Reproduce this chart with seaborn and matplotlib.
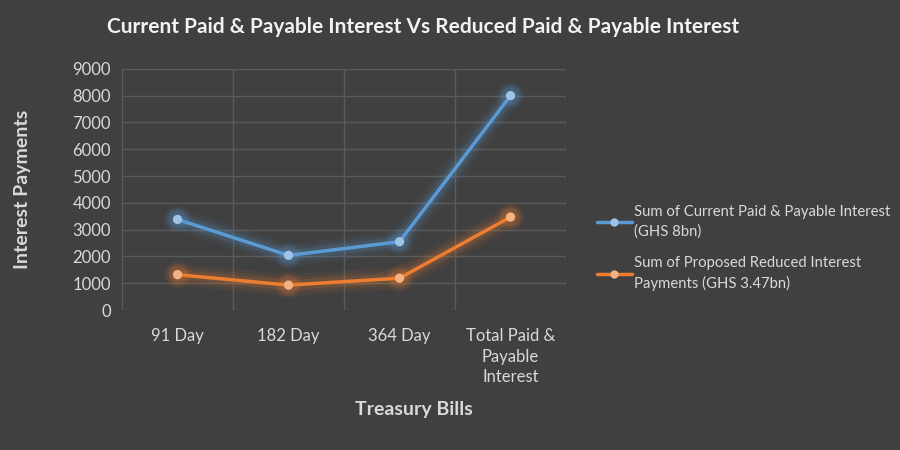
import seaborn as sns
import matplotlib.pyplot as plt
import pandas as pd
import numpy as np

# values
categories = ['91 Day', '182 Day', '364 Day', 'Total Paid &\nPayable\nInterest']
current_interest = [3380, 2040, 2550, 8000]
reduced_interest = [1320, 930, 1190, 3470]
series_names = ['Sum of Current Paid & Payable Interest\n(GHS 8bn)',
                'Sum of Proposed Reduced Interest\nPayments (GHS 3.47bn)']
colors = ['#5b9bd5', '#ed7d31']
marker_colors = ['#9dc3e6', '#f4b183']

bg = '#404040'
txt = '#d9d9d9'

sns.set_style('dark')
plt.rcParams['font.family'] = ['Lato', 'DejaVu Sans']

df = pd.DataFrame({
    'x': list(range(len(categories))) * 2,
    'value': current_interest + reduced_interest,
    'series': [series_names[0]] * 4 + [series_names[1]] * 4,
})

fig = plt.figure(figsize=(9, 4.5), dpi=100, facecolor=bg)
ax = fig.add_axes([0.1356, 0.311, 0.4933, 0.536])
ax.set_facecolor(bg)

# glow around lines
for lw, a in [(16, 0.06), (11, 0.09), (7, 0.15)]:
    sns.lineplot(data=df, x='x', y='value', hue='series', palette=colors,
                 linewidth=lw, alpha=a, legend=False, ax=ax,
                 solid_capstyle='round')
    sns.scatterplot(data=df, x='x', y='value', hue='series', palette=colors,
                    s=lw * 25, alpha=a, legend=False, ax=ax, linewidth=0)

sns.lineplot(data=df, x='x', y='value', hue='series', palette=colors,
             linewidth=2.5, legend=False, ax=ax)
sns.scatterplot(data=df, x='x', y='value', hue='series', palette=marker_colors,
                s=45, legend=False, ax=ax, linewidth=0, zorder=5)

ax.set_xlim(-0.5, 3.5)
ax.set_ylim(0, 9000)
ax.set_yticks(range(0, 9001, 1000))
ax.set_xticks(range(len(categories)))
ax.set_xticklabels(categories, ha='center', va='top', linespacing=1.35)
ax.set_xticks(np.arange(-0.5, 3.6, 1), minor=True)
ax.grid(True, which='major', axis='y', color='#5a5a5a', linewidth=1)
ax.grid(True, which='minor', axis='x', color='#5a5a5a', linewidth=1)
ax.grid(False, which='major', axis='x')
ax.tick_params(axis='both', which='both', length=0, colors=txt, labelsize=12)
ax.tick_params(axis='x', pad=13)
ax.tick_params(axis='y', pad=8)
for s in ax.spines.values():
    s.set_visible(False)

ax.set_xlabel('')
ax.set_ylabel('')
fig.text(0.46, 0.09, 'Treasury Bills', ha='center', va='center',
         color=txt, fontsize=14, fontweight='bold')
fig.text(0.025, 0.58, 'Interest Payments', ha='center', va='center',
         rotation=90, color=txt, fontsize=14, fontweight='bold')
fig.text(0.47, 0.94, 'Current Paid & Payable Interest Vs Reduced Paid & Payable Interest',
         ha='center', va='center', color='#f2f2f2', fontsize=15, fontweight='bold')

handles = [plt.Line2D([], [], color=c, lw=2.5, marker='o', markersize=6,
                      markerfacecolor=m, markeredgewidth=0)
           for c, m in zip(colors, marker_colors)]
leg = fig.legend(handles, series_names, loc='upper left', bbox_to_anchor=(0.648, 0.575),
                 frameon=False, labelcolor=txt, fontsize=10.7, handlelength=2.4,
                 handletextpad=0.15, labelspacing=1.15)
for t in leg.get_texts():
    t.set_linespacing(1.5)

fig.savefig('out.png', dpi=100, facecolor=bg)
